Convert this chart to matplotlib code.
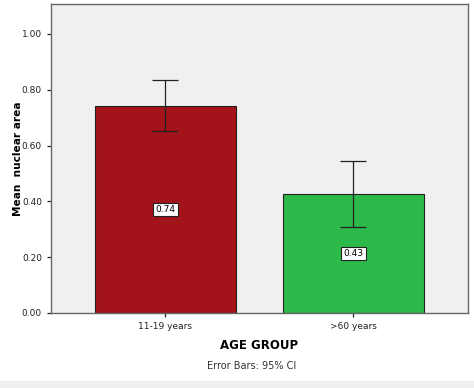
import matplotlib
matplotlib.use('Agg')
import matplotlib.pyplot as plt
import matplotlib.patches as mpatches

# Data
groups = ['11-19 years', '>60 years']
means = [0.743, 0.428]
ci_low = [0.652, 0.309]
ci_high = [0.834, 0.545]
labels = ['0.74', '0.43']
colors = ['#a2141a', '#2db84a']

fig = plt.figure(figsize=(4.74, 3.88), dpi=100)
fig.patch.set_facecolor('white')
# light grey strip at the very bottom
fig.patches.append(mpatches.Rectangle((0, 0), 1, 7 / 388, transform=fig.transFigure,
                                      facecolor='#efefef', edgecolor='none', zorder=0))

ax = fig.add_axes([0.1076, 0.1933, 0.8794, 0.7964])
ax.set_facecolor('#f0f0f0')

x = list(range(len(groups)))
err = [[m - lo for m, lo in zip(means, ci_low)], [hi - m for m, hi in zip(means, ci_high)]]
ax.bar(x, means, width=0.75, color=colors, edgecolor='#222222', linewidth=0.8, zorder=2)
ax.errorbar(x, means, yerr=err, fmt='none', ecolor='#222222', elinewidth=0.9,
            capsize=9.5, capthick=0.9, zorder=3)

for xi, m, lab in zip(x, means, labels):
    ax.text(xi, m / 2, lab, ha='center', va='center', fontsize=6.5, zorder=4,
            bbox=dict(boxstyle='square,pad=0.25', facecolor='white', edgecolor='#222222', linewidth=0.8))

ax.set_xlim(-0.609, 1.609)
ax.set_ylim(0, 1.107)
ax.set_yticks([0, 0.2, 0.4, 0.6, 0.8, 1.0])
ax.set_yticklabels(['0.00', '0.20', '0.40', '0.60', '0.80', '1.00'])
ax.set_xticks(x)
ax.set_xticklabels(groups)
ax.tick_params(axis='both', labelsize=6.5, colors='#222222', length=3, width=0.9)
for s in ax.spines.values():
    s.set_color('#666666')
    s.set_linewidth(1.0)

ax.set_xlabel('AGE GROUP', fontsize=8.5, fontweight='bold', labelpad=6)
ax.set_ylabel('Mean  nuclear area', fontsize=7.6, fontweight='bold')
ax.yaxis.set_label_coords(-0.068, 0.5)

fig.text(0.5 + 0.03, 1 - 366 / 388, 'Error Bars: 95% CI', ha='center', va='center',
         fontsize=7, color='#333333')

fig.savefig('out.png', dpi=100)
